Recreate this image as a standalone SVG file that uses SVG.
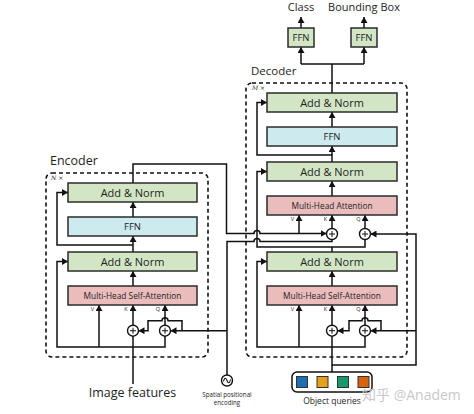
<svg xmlns="http://www.w3.org/2000/svg" width="474" height="414" viewBox="0 0 474 414">
<defs>
<marker id="ah" markerUnits="userSpaceOnUse" markerWidth="7" markerHeight="7" refX="6" refY="3.5" orient="auto">
<path d="M0,0 L6,3.5 L0,7 z" fill="#111"/>
</marker>
<style>
text{font-family:"Open Sans","DejaVu Sans",sans-serif;fill:#1e1e1e}
.box{stroke:#2b2b2b;stroke-width:1.5}
.green{fill:#d2e6c6}
.cyan{fill:#cdebee}
.pink{fill:#ebbcbc}
.ln{fill:none;stroke:#111;stroke-width:1.5}
.ar{fill:none;stroke:#111;stroke-width:1.5;marker-end:url(#ah)}
.dash{fill:none;stroke:#111;stroke-width:1.6;stroke-dasharray:4 3}
.plus{fill:#fff;stroke:#111;stroke-width:1.4}
.t11{font-size:11px;text-anchor:middle}
.t9{font-size:9.5px;text-anchor:middle}
.t8{font-size:8.3px;text-anchor:middle}
.lab{font-size:5.5px;text-anchor:middle}
.sq{stroke:#333;stroke-width:1}
</style>
</defs>
<rect width="474" height="414" fill="#fff"/>

<!-- frames -->
<g id="encoder-frame">
<text x="50" y="165" style="font-size:12.5px">Encoder</text>
<rect class="dash" x="46" y="173" width="162" height="184" rx="6"/>
<text x="51" y="180" style="font-size:6px;font-style:italic;font-family:'DejaVu Serif',serif">N ×</text>
</g>
<g id="decoder-frame">
<text x="251" y="75" style="font-size:11.5px">Decoder</text>
<rect class="dash" x="246" y="83" width="161" height="274" rx="6"/>
<text x="252" y="90" style="font-size:6px;font-style:italic;font-family:'DejaVu Serif',serif">M ×</text>
</g>

<!-- connectors -->
<g id="connectors">
<!-- encoder -->
<path class="ln" d="M133,384 V336.2"/>
<path class="ar" d="M133,325.2 V305"/>
<path class="ar" d="M165,325.2 V305"/>
<path class="ar" d="M99,347 V305"/>
<path class="ar" d="M165,336.2 V347 H57 V261.5 H68"/>
<path class="ar" d="M133,286 V271"/>
<path class="ar" d="M133,252 V236"/>
<path class="ar" d="M133,245 H57 V192.5 H68"/>
<path class="ar" d="M133,217 V202"/>
<path class="ar" d="M182,330.7 V320.7 H168 a3,3 0 0 0 -6,0 H148 V330.7 H138.5"/>
<path class="ar" d="M227,330.7 H170.5"/>
<!-- encoder memory to decoder -->
<path class="ar" d="M133,183 V164 H226.5 V233.5 H254 a3,3 0 0 1 6,0 H326.5"/>
<path class="ar" d="M299,233.5 V215"/>
<!-- positional encoding -->
<path class="ln" d="M227,375 V241.5 H254 a3,3 0 0 1 6,0 H332 V239.5"/>
<!-- decoder -->
<path class="ln" d="M332,372 V336.2"/>
<path class="ar" d="M332,365 H416 V234 H370.5"/>
<path class="ar" d="M416,330.7 H370.5"/>
<path class="ar" d="M381,330.7 V320.7 H368 a3,3 0 0 0 -6,0 H349 V330.7 H337.5"/>
<path class="ar" d="M332,325.2 V305"/>
<path class="ar" d="M365,325.2 V305"/>
<path class="ar" d="M299,347 V305"/>
<path class="ar" d="M365,336.2 V347 H257 V261.5 H267"/>
<path class="ar" d="M332,286 V271"/>
<path class="ln" d="M332,252 V247"/>
<path class="ar" d="M365,239.5 V247 H257 V171.5 H267"/>
<path class="ar" d="M332,228.5 V215"/>
<path class="ar" d="M365,228.5 V215"/>
<path class="ar" d="M332,196 V181"/>
<path class="ar" d="M332,162 V146"/>
<path class="ar" d="M332,155 H257 V102.5 H267"/>
<path class="ar" d="M332,127 V112"/>
<path class="ln" d="M332,93 V64 M301,64 H364"/>
<path class="ar" d="M301,64 V47"/>
<path class="ar" d="M364,64 V47"/>
<path class="ar" d="M301,28 V17"/>
<path class="ar" d="M364,28 V17"/>
</g>

<!-- encoder nodes -->
<g id="enc-addnorm-2"><rect class="box green" x="68" y="183" width="129" height="19"/><text class="t11" x="132.5" y="196.5">Add &amp; Norm</text></g>
<g id="enc-ffn"><rect class="box cyan" x="68" y="217" width="129" height="19"/><text class="t9" x="132.5" y="230">FFN</text></g>
<g id="enc-addnorm-1"><rect class="box green" x="68" y="252" width="129" height="19"/><text class="t11" x="132.5" y="265.5">Add &amp; Norm</text></g>
<g id="enc-mhsa"><rect class="box pink" x="68" y="286" width="129" height="19"/><text class="t8" x="132.5" y="298.6">Multi-Head  Self-Attention</text>
<text class="lab" x="92.5" y="311">V</text><text class="lab" x="126" y="311">K</text><text class="lab" x="158" y="311">Q</text></g>
<g id="enc-plus-k"><circle class="plus" cx="133" cy="330.7" r="5.5"/><path class="ln" style="stroke-width:1" d="M130,330.7 H136 M133,327.7 V333.7"/></g>
<g id="enc-plus-q"><circle class="plus" cx="165" cy="330.7" r="5.5"/><path class="ln" style="stroke-width:1" d="M162,330.7 H168 M165,327.7 V333.7"/></g>
<g id="image-features"><text x="132.5" y="397" style="font-size:12.5px;text-anchor:middle">Image features</text></g>
<g id="pos-encoding"><circle class="plus" cx="227" cy="380.5" r="5.5"/><path class="ln" style="stroke-width:1.1" d="M223.5,381.5 C224.5,377 226,377.5 227,380.5 C228,383.5 229.5,384 230.5,379.5"/>
<text x="227" y="397" style="font-size:6.2px;text-anchor:middle">Spatial  positional</text><text x="227" y="404.5" style="font-size:6.2px;text-anchor:middle">encoding</text></g>

<!-- decoder nodes -->
<g id="dec-addnorm-3"><rect class="box green" x="267" y="93" width="130" height="19"/><text class="t11" x="332" y="106.5">Add &amp; Norm</text></g>
<g id="dec-ffn"><rect class="box cyan" x="267" y="127" width="130" height="19"/><text class="t9" x="332" y="140">FFN</text></g>
<g id="dec-addnorm-2"><rect class="box green" x="267" y="162" width="130" height="19"/><text class="t11" x="332" y="175.5">Add &amp; Norm</text></g>
<g id="dec-mha"><rect class="box pink" x="267" y="196" width="130" height="19"/><text class="t8" x="332" y="208.6">Multi-Head  Attention</text>
<text class="lab" x="292.5" y="221">V</text><text class="lab" x="325.5" y="221">K</text><text class="lab" x="358.5" y="221">Q</text></g>
<g id="dec-plus-k2"><circle class="plus" cx="332" cy="234" r="5.5"/><path class="ln" style="stroke-width:1" d="M329,234 H335 M332,231 V237"/></g>
<g id="dec-plus-q2"><circle class="plus" cx="365" cy="234" r="5.5"/><path class="ln" style="stroke-width:1" d="M362,234 H368 M365,231 V237"/></g>
<g id="dec-addnorm-1"><rect class="box green" x="267" y="252" width="130" height="19"/><text class="t11" x="332" y="265.5">Add &amp; Norm</text></g>
<g id="dec-mhsa"><rect class="box pink" x="267" y="286" width="130" height="19"/><text class="t8" x="332" y="298.6">Multi-Head  Self-Attention</text>
<text class="lab" x="292.5" y="311">V</text><text class="lab" x="325.5" y="311">K</text><text class="lab" x="358.5" y="311">Q</text></g>
<g id="dec-plus-k1"><circle class="plus" cx="332" cy="330.7" r="5.5"/><path class="ln" style="stroke-width:1" d="M329,330.7 H335 M332,327.7 V333.7"/></g>
<g id="dec-plus-q1"><circle class="plus" cx="365" cy="330.7" r="5.5"/><path class="ln" style="stroke-width:1" d="M362,330.7 H368 M365,327.7 V333.7"/></g>

<!-- heads -->
<g id="ffn-class"><rect class="box green" x="288" y="28" width="26" height="19"/><text class="t9" x="301" y="41">FFN</text><text class="t11" x="301" y="11">Class</text></g>
<g id="ffn-bbox"><rect class="box green" x="351" y="28" width="26" height="19"/><text class="t9" x="364" y="41">FFN</text><text class="t11" x="364" y="11">Bounding Box</text></g>

<!-- object queries -->
<g id="object-queries">
<rect x="292" y="372" width="80" height="20" rx="5" fill="#fff" stroke="#111" stroke-width="1.5"/>
<rect class="sq" x="296.5" y="376.5" width="11" height="11" fill="#1f6db5"/>
<rect class="sq" x="317" y="376.5" width="11" height="11" fill="#e6a11c"/>
<rect class="sq" x="337.5" y="376.5" width="11" height="11" fill="#18996b"/>
<rect class="sq" x="358" y="376.5" width="11" height="11" fill="#d9620f"/>
<text x="332" y="403.5" style="font-size:8.5px;text-anchor:middle">Object  queries</text>
</g>

<g id="watermark"><text x="362" y="399.5" style="font-size:14px;fill:#c9c9c9;font-family:'Open Sans','Noto Sans CJK SC',sans-serif">知乎 @Anadem</text></g>
</svg>
